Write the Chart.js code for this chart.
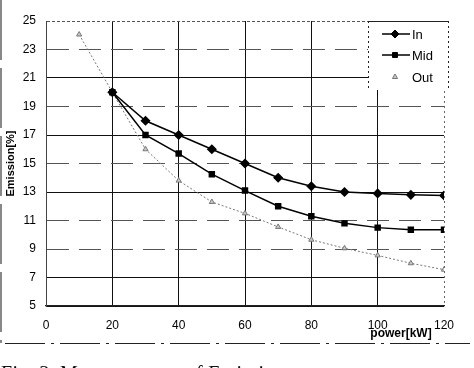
<!DOCTYPE html>
<html>
<head>
<meta charset="utf-8">
<script src="https://cdn.jsdelivr.net/npm/chart.js@4/dist/chart.umd.min.js"></script>
<style>
    body { margin: 0; background: #ffffff; }
    #wrap { position: relative; width: 474px; height: 368px; overflow: hidden; background: #ffffff; }
    #graph { position: absolute; left: 0; top: 0; }
    #caption
    {
        position: absolute; left: 1px; top: 362px; white-space: nowrap;
        font-family: 'Liberation Serif', serif; font-size: 20px; color: #111;
        letter-spacing: 0.3px;
    }
</style>
</head>
<body>
<div id="wrap">
    <canvas id="graph" width="474" height="368"></canvas>
    <div id="caption">Fig. 3. Measurements of Emission</div>
</div>
<script>
// power levels [kW] and emission [%]
const powerLevels = [10, 20, 30, 40, 50, 60, 70, 80, 90, 100, 110, 120]
const inEmission  = [null, 20, 18, 17, 16, 15, 14, 13.4, 13.0, 12.9, 12.8, 12.75]
const midEmission = [null, 20, 17, 15.7, 14.25, 13.1, 12.0, 11.3, 10.8, 10.5, 10.35, 10.35]
const outEmission = [24.05, 20, 16.0, 13.8, 12.3, 11.5, 10.55, 9.65, 9.05, 8.55, 8.0, 7.55]
const seriesNames = ['In', 'Mid', 'Out']

const xTicks = {min: 0, max: 120, step: 20}
const yTicks = {min: 5, max: 25, step: 2}

function points(values)
{
    return powerLevels
        .map((p, i) => ({x: p, y: values[i]}))
        .filter(pt => pt.y !== null)
}

const solidRows = [5, 7, 13, 17, 21]

const decorPlugin =
{
    id: 'decor',
    afterDatasetsDraw(chart)
    {
        const ctx = chart.ctx
        ctx.save()

        // legend box inside the plot
        const box = {left: 368, top: 21, right: 448, bottom: 90}
        ctx.fillStyle = '#ffffff'
        ctx.fillRect(box.left, box.top, box.right - box.left, box.bottom - box.top)
        ctx.strokeStyle = '#222'
        ctx.lineWidth = 1
        ctx.beginPath()
        ctx.moveTo(box.left, box.top + 0.5)
        ctx.lineTo(box.right, box.top + 0.5)
        ctx.stroke()
        ctx.setLineDash([2, 3])
        ctx.beginPath()
        ctx.moveTo(box.right + 0.5, box.top)
        ctx.lineTo(box.right + 0.5, box.bottom)
        ctx.moveTo(box.left + 0.5, box.top)
        ctx.lineTo(box.left + 0.5, box.bottom)
        ctx.stroke()
        ctx.setLineDash([])

        const rows = [34, 55, 77]
        chart.data.datasets.forEach((ds, i) =>
        {
            const y = rows[i]
            ctx.strokeStyle = ds.borderColor
            ctx.lineWidth = ds.borderWidth
            ctx.setLineDash(ds.borderDash || [])
            if (i < 2)
            {
                ctx.beginPath()
                ctx.moveTo(382, y)
                ctx.lineTo(410, y)
                ctx.stroke()
            }
            ctx.setLineDash([])
            ctx.fillStyle = ds.pointBackgroundColor
            ctx.strokeStyle = ds.pointBorderColor
            ctx.lineWidth = 1
            Chart.helpers.drawPoint(ctx, {pointStyle: ds.pointStyle, radius: ds.pointRadius, borderWidth: 1, rotation: 0}, 395, y)
            ctx.fillStyle = '#000'
            ctx.font = '13px "Liberation Sans", Arial, sans-serif'
            ctx.textAlign = 'left'
            ctx.textBaseline = 'middle'
            ctx.fillText(ds.label, 412, y + 1)
        })
        ctx.restore()
    },
    afterDraw(chart)
    {
        const ctx = chart.ctx
        ctx.save()
        // x axis title sits under the 100 tick
        ctx.fillStyle = '#000'
        ctx.font = 'bold 12px "Liberation Sans", Arial, sans-serif'
        ctx.textAlign = 'center'
        ctx.textBaseline = 'middle'
        ctx.fillText('power[kW]', 401, 334)

        // frame of the scanned figure
        ctx.strokeStyle = '#222'
        ctx.lineWidth = 1.2
        ctx.setLineDash([40, 6, 3, 6])
        ctx.beginPath()
        ctx.moveTo(5, 343.5)
        ctx.lineTo(470, 343.5)
        ctx.stroke()
        ctx.setLineDash([60, 8])
        ctx.strokeStyle = '#888'
        ctx.lineWidth = 2
        ctx.beginPath()
        ctx.moveTo(1, 0)
        ctx.lineTo(1, 343)
        ctx.stroke()
        ctx.restore()
    }
}

new Chart(document.querySelector('#graph'),
{
    type: 'line',
    data:
    {
        datasets:
        [
            {
                label: seriesNames[0],
                data: points(inEmission),
                borderColor: '#000',
                borderWidth: 1.5,
                pointStyle: 'rectRot',
                pointRadius: 4,
                pointBackgroundColor: '#000',
                pointBorderColor: '#000',
                tension: 0
            },
            {
                label: seriesNames[1],
                data: points(midEmission),
                borderColor: '#000',
                borderWidth: 1.5,
                pointStyle: 'rect',
                pointRadius: 3.5,
                pointBackgroundColor: '#000',
                pointBorderColor: '#000',
                tension: 0
            },
            {
                label: seriesNames[2],
                data: points(outEmission),
                borderColor: '#777',
                borderWidth: 1,
                borderDash: [2, 2],
                pointStyle: 'triangle',
                pointRadius: 3,
                pointBackgroundColor: '#c8c8c8',
                pointBorderColor: '#777',
                tension: 0
            }
        ]
    },
    options:
    {
        responsive: false,
        animation: false,
        layout: {padding: {left: 0, right: 30, top: 21, bottom: 22}},
        plugins: {legend: {display: false}, tooltip: {enabled: false}},
        scales:
        {
            x:
            {
                type: 'linear',
                min: xTicks.min,
                max: xTicks.max,
                ticks:
                {
                    stepSize: xTicks.step,
                    color: '#000',
                    padding: 12,
                    font: {family: '"Liberation Sans", Arial, sans-serif', size: 12}
                },
                grid:
                {
                    drawTicks: false,
                    color: (c) => (c.tick && (c.tick.value === 0 || c.tick.value === 120)) ? '#666' : '#111',
                    lineWidth: 1
                },
                border:
                {
                    color: '#222',
                    width: 1.2,
                    dash: (c) => (c.tick && (c.tick.value === 0 || c.tick.value === 120)) ? [2, 3] : []
                },
                afterFit(scale) { scale.height = 40 }
            },
            y:
            {
                min: yTicks.min,
                max: yTicks.max,
                ticks:
                {
                    stepSize: yTicks.step,
                    color: '#000',
                    padding: 10,
                    font: {family: '"Liberation Sans", Arial, sans-serif', size: 12}
                },
                grid:
                {
                    drawTicks: false,
                    color: (c) => (c.tick && solidRows.includes(c.tick.value)) ? '#111' : '#555',
                    lineWidth: 1
                },
                border:
                {
                    color: '#444',
                    width: 1,
                    dash: (c) =>
                    {
                        if (!c.tick) return []
                        if (c.tick.value === 25) return [3, 2]
                        return solidRows.includes(c.tick.value) ? [] : [22, 10]
                    }
                },
                title:
                {
                    display: true,
                    text: 'Emission[%]',
                    color: '#000',
                    padding: {top: 4, bottom: 0},
                    font: {family: '"Liberation Sans", Arial, sans-serif', size: 11, weight: 'bold'}
                },
                afterFit(scale) { scale.width = 46 }
            }
        }
    },
    plugins: [decorPlugin]
})
</script>
</body>
</html>
